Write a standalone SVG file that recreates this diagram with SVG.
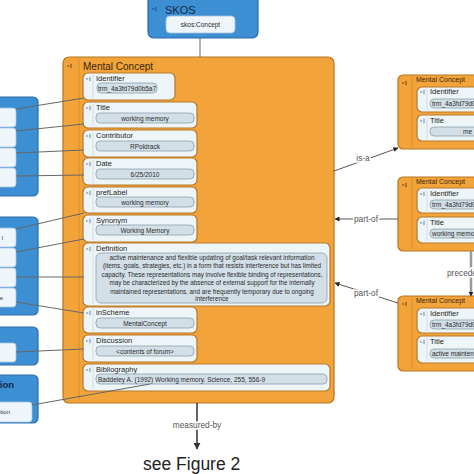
<svg xmlns="http://www.w3.org/2000/svg" width="474" height="474" viewBox="0 0 474 474">
<style>
text{font-family:"Liberation Sans",Arial,sans-serif}
.blue{fill:#3d8fd3;stroke:#2b6ca8;stroke-width:1.2}
.wbox{fill:#eef6fc;stroke:#a6c4dc;stroke-width:0.8}
.orange{fill:#f2a43a;stroke:#b8741f;stroke-width:1.2}
.sub{fill:#edf5f9;stroke:#b77a2c;stroke-width:1.2}
.div{stroke:#c9d6de;stroke-width:0.8}
.odiv{stroke:#d68a25;stroke-width:0.8}
.val{fill:#d3dfe7;stroke:#8d9ea9;stroke-width:0.8}
.lbl{font-size:7.5px;fill:#1e1e1e}
.vt{font-size:6.5px;fill:#2a2a2a;text-anchor:middle}
.dt{font-size:6.3px;fill:#2a2a2a;text-anchor:middle}
.mt{font-size:10px;fill:#3a2810}
.mts{font-size:7px;fill:#3a2810}
.ic{stroke:#5d7c98;stroke-width:0.9;fill:none}
.ico{stroke:#5a3a12;stroke-width:0.9;fill:none}
.conn{stroke:#666;stroke-width:1;fill:none}
.rel{stroke:#555;stroke-width:1;fill:none}
.rl{font-size:8.3px;fill:#555;paint-order:stroke;stroke:#fff;stroke-width:3px}
</style>
<defs>
<marker id="ah" viewBox="0 0 10 10" refX="9" refY="5" markerWidth="5" markerHeight="5" orient="auto" markerUnits="userSpaceOnUse">
<path d="M0,0L10,5L0,10z" fill="#222"/>
</marker>
<marker id="ahb" viewBox="0 0 10 10" refX="9" refY="5" markerWidth="7" markerHeight="7" orient="auto" markerUnits="userSpaceOnUse">
<path d="M0,0L10,5L0,10z" fill="#333"/>
</marker>
<g id="icon"><line x1="0" y1="0" x2="2.2" y2="0"/><line x1="4" y1="-2.2" x2="4" y2="2.2"/></g>
</defs>
<rect width="474" height="474" fill="#fff"/>

<!-- SKOS -->
<g id="skos">
<rect class="blue" x="148" y="-6" width="110" height="44" rx="6"/>
<use href="#icon" x="152" y="9" class="ico" style="stroke:#1c3c66"/>
<text x="165" y="14" style="font-size:11px;fill:#14284a">SKOS</text>
<rect class="wbox" x="166" y="16" width="69" height="17" rx="4"/>
<text x="200.5" y="27" class="vt" style="font-size:6.5px">skos:Concept</text>
</g>

<!-- left blue nodes -->
<g id="left1">
<rect class="blue" x="-10" y="97" width="48" height="99" rx="5"/>
<rect class="wbox" x="-10" y="108" width="26" height="19" rx="3"/>
<rect class="wbox" x="-10" y="128" width="26" height="19" rx="3"/>
<rect class="wbox" x="-10" y="148" width="26" height="19" rx="3"/>
<rect class="wbox" x="-10" y="168" width="26" height="19" rx="3"/>
</g>
<g id="left2">
<rect class="blue" x="-10" y="217" width="48" height="98" rx="5"/>
<rect class="wbox" x="-10" y="228" width="26" height="19" rx="3"/>
<rect class="wbox" x="-10" y="248" width="26" height="19" rx="3"/>
<rect class="wbox" x="-10" y="268" width="26" height="19" rx="3"/>
<rect class="wbox" x="-10" y="288" width="26" height="19" rx="3"/>
<text x="3" y="240" style="font-size:6px;fill:#333;text-anchor:end">l</text>
<text x="3" y="300" style="font-size:6px;fill:#333;text-anchor:end">e</text>
</g>
<g id="left3">
<rect class="blue" x="-10" y="327" width="48" height="38" rx="5"/>
<rect class="wbox" x="-10" y="343" width="26" height="19" rx="3"/>
</g>
<g id="left4">
<rect class="blue" x="-10" y="375" width="48" height="48" rx="5"/>
<text x="-6" y="388" style="font-size:9.5px;font-weight:bold;fill:#14284a">ition</text>
<rect class="wbox" x="-10" y="402" width="42" height="20" rx="3"/>
<text x="-1" y="414" style="font-size:6px;fill:#333">ition</text>
</g>

<!-- Main Mental Concept -->
<g id="main">
<rect class="orange" x="63" y="57" width="271" height="346" rx="6"/>
<line class="odiv" x1="79" y1="59" x2="79" y2="401"/>
<use href="#icon" x="67" y="66" class="ico"/>
<text x="83" y="70" class="mt">Mental Concept</text>
</g>
<g id="identifier">
<rect class="sub" x="83" y="73" width="92" height="27" rx="5"/>
<line class="div" x1="93" y1="75" x2="93" y2="98"/>
<use href="#icon" x="86" y="79" class="ic"/>
<text x="96" y="81" class="lbl">Identifier</text>
<rect class="val" x="97" y="83" width="60" height="10" rx="4"/>
<text x="127" y="90.5" class="vt">trm_4a3fd79d0b5a7</text>
</g>
<g id="title">
<rect class="sub" x="83" y="102" width="114" height="26" rx="5"/>
<line class="div" x1="93" y1="104" x2="93" y2="126"/>
<use href="#icon" x="86" y="108" class="ic"/>
<text x="96" y="110" class="lbl">Title</text>
<rect class="val" x="96" y="113" width="98" height="10" rx="4"/>
<text x="145" y="120.5" class="vt">working memory</text>
</g>
<g id="contributor">
<rect class="sub" x="83" y="130" width="114" height="27" rx="5"/>
<line class="div" x1="93" y1="132" x2="93" y2="155"/>
<use href="#icon" x="86" y="136" class="ic"/>
<text x="96" y="138" class="lbl">Contributor</text>
<rect class="val" x="96" y="141" width="98" height="10" rx="4"/>
<text x="145" y="148.5" class="vt">RPoldrack</text>
</g>
<g id="date">
<rect class="sub" x="83" y="158" width="114" height="27" rx="5"/>
<line class="div" x1="93" y1="160" x2="93" y2="183"/>
<use href="#icon" x="86" y="164" class="ic"/>
<text x="96" y="166" class="lbl">Date</text>
<rect class="val" x="96" y="169" width="98" height="10" rx="4"/>
<text x="145" y="176.5" class="vt">6/25/2010</text>
</g>
<g id="preflabel">
<rect class="sub" x="83" y="187" width="114" height="26" rx="5"/>
<line class="div" x1="93" y1="189" x2="93" y2="211"/>
<use href="#icon" x="86" y="193" class="ic"/>
<text x="96" y="195" class="lbl">prefLabel</text>
<rect class="val" x="96" y="197" width="98" height="10" rx="4"/>
<text x="145" y="204.5" class="vt">working memory</text>
</g>
<g id="synonym">
<rect class="sub" x="83" y="215" width="114" height="27" rx="5"/>
<line class="div" x1="93" y1="217" x2="93" y2="240"/>
<use href="#icon" x="86" y="221" class="ic"/>
<text x="96" y="223" class="lbl">Synonym</text>
<rect class="val" x="96" y="225" width="98" height="10" rx="4"/>
<text x="145" y="232.5" class="vt">Working Memory</text>
</g>
<g id="definition">
<rect class="sub" x="83" y="243" width="247" height="63" rx="5"/>
<line class="div" x1="93" y1="245" x2="93" y2="304"/>
<use href="#icon" x="86" y="249" class="ic"/>
<text x="96" y="251" class="lbl">Definition</text>
<rect class="val" x="96" y="253" width="231" height="50" rx="5"/>
<text x="212" y="259.5" class="dt">active maintenance and flexible updating of goal/task relevant information</text>
<text x="212" y="268" class="dt">(items, goals, strategies, etc.) in a form that resists interference but has limited</text>
<text x="212" y="276.5" class="dt">capacity. These representations may involve flexible binding of representations,</text>
<text x="212" y="285" class="dt">may be characterized by the absence of external support for the internally</text>
<text x="212" y="293.5" class="dt">maintained representations, and are frequently temporary due to ongoing</text>
<text x="212" y="300.5" class="dt">interference</text>
</g>
<g id="inscheme">
<rect class="sub" x="83" y="307" width="114" height="26" rx="5"/>
<line class="div" x1="93" y1="309" x2="93" y2="331"/>
<use href="#icon" x="86" y="313" class="ic"/>
<text x="96" y="315" class="lbl">inScheme</text>
<rect class="val" x="96" y="318" width="98" height="10" rx="4"/>
<text x="145" y="325.5" class="vt">MentalConcept</text>
</g>
<g id="discussion">
<rect class="sub" x="83" y="335" width="114" height="27" rx="5"/>
<line class="div" x1="93" y1="337" x2="93" y2="360"/>
<use href="#icon" x="86" y="341" class="ic"/>
<text x="96" y="343" class="lbl">Discussion</text>
<rect class="val" x="96" y="346" width="98" height="10" rx="4"/>
<text x="145" y="353.5" class="vt">&lt;contents of forum&gt;</text>
</g>
<g id="bibliography">
<rect class="sub" x="83" y="364" width="247" height="27" rx="5"/>
<line class="div" x1="93" y1="366" x2="93" y2="389"/>
<use href="#icon" x="86" y="370" class="ic"/>
<text x="96" y="372" class="lbl">Bibliography</text>
<rect class="val" x="96" y="374" width="231" height="10" rx="4"/>
<text x="98" y="381.5" class="vt" style="text-anchor:start">Baddeley A. (1992) Working memory. Science, 255, 556-9</text>
</g>

<!-- right nodes -->
<g id="r1">
<rect class="orange" x="398" y="75" width="90" height="74" rx="5"/>
<line class="odiv" x1="412" y1="77" x2="412" y2="147"/>
<use href="#icon" x="402" y="83" class="ico"/>
<text x="416" y="82" class="mts">Mental Concept</text>
<rect class="sub" x="417" y="87" width="70" height="25" rx="5"/>
<line class="div" x1="427" y1="89" x2="427" y2="110"/>
<use href="#icon" x="420" y="92" class="ic"/>
<text x="430" y="94" class="lbl">Identifier</text>
<rect class="val" x="430" y="99" width="60" height="9" rx="4"/>
<text x="432" y="106" class="vt" style="text-anchor:start">trm_4a3fd79d0b5a7</text>
<rect class="sub" x="417" y="115" width="70" height="26" rx="5"/>
<line class="div" x1="427" y1="117" x2="427" y2="139"/>
<use href="#icon" x="420" y="121" class="ic"/>
<text x="430" y="123" class="lbl">Title</text>
<rect class="val" x="430" y="127" width="60" height="9" rx="4"/>
<text x="463" y="134" class="vt" style="text-anchor:start">me</text>
</g>
<g id="r2">
<rect class="orange" x="398" y="177" width="90" height="74" rx="5"/>
<line class="odiv" x1="412" y1="179" x2="412" y2="249"/>
<use href="#icon" x="402" y="185" class="ico"/>
<text x="416" y="184" class="mts">Mental Concept</text>
<rect class="sub" x="417" y="188" width="70" height="25" rx="5"/>
<line class="div" x1="427" y1="190" x2="427" y2="211"/>
<use href="#icon" x="420" y="194" class="ic"/>
<text x="430" y="196" class="lbl">Identifier</text>
<rect class="val" x="430" y="200" width="60" height="9" rx="4"/>
<text x="432" y="207" class="vt" style="text-anchor:start">trm_4a3fd79d0b5a7</text>
<rect class="sub" x="417" y="217" width="70" height="26" rx="5"/>
<line class="div" x1="427" y1="219" x2="427" y2="241"/>
<use href="#icon" x="420" y="223" class="ic"/>
<text x="430" y="225" class="lbl">Title</text>
<rect class="val" x="430" y="229" width="60" height="9" rx="4"/>
<text x="432" y="236" class="vt" style="text-anchor:start">working memory</text>
</g>
<g id="r3">
<rect class="orange" x="398" y="296" width="90" height="75" rx="5"/>
<line class="odiv" x1="412" y1="298" x2="412" y2="369"/>
<use href="#icon" x="402" y="304" class="ico"/>
<text x="416" y="303" class="mts">Mental Concept</text>
<rect class="sub" x="417" y="308" width="70" height="25" rx="5"/>
<line class="div" x1="427" y1="310" x2="427" y2="331"/>
<use href="#icon" x="420" y="314" class="ic"/>
<text x="430" y="316" class="lbl">Identifier</text>
<rect class="val" x="430" y="320" width="60" height="9" rx="4"/>
<text x="432" y="327" class="vt" style="text-anchor:start">trm_4a3fd79d0b5a7</text>
<rect class="sub" x="417" y="336" width="70" height="27" rx="5"/>
<line class="div" x1="427" y1="338" x2="427" y2="361"/>
<use href="#icon" x="420" y="342" class="ic"/>
<text x="430" y="344" class="lbl">Title</text>
<rect class="val" x="430" y="349" width="60" height="9" rx="4"/>
<text x="432" y="356" class="vt" style="text-anchor:start">active maintenance</text>
</g>

<!-- connectors -->
<g id="connectors">
<line class="conn" x1="200" y1="38" x2="200" y2="57"/>
<line class="conn" x1="16" y1="109" x2="84" y2="98"/>
<line class="conn" x1="16" y1="131" x2="84" y2="124"/>
<line class="conn" x1="16" y1="153" x2="84" y2="150"/>
<line class="conn" x1="16" y1="176" x2="84" y2="175"/>
<line class="conn" x1="16" y1="229" x2="84" y2="213"/>
<line class="conn" x1="16" y1="252" x2="84" y2="239"/>
<line class="conn" x1="16" y1="277" x2="84" y2="277"/>
<line class="conn" x1="16" y1="302" x2="84" y2="313"/>
<line class="conn" x1="16" y1="352" x2="84" y2="349"/>
<line class="conn" x1="32" y1="405" x2="150" y2="384"/>
<line class="rel" x1="334" y1="171" x2="398" y2="148" marker-end="url(#ah)"/>
<text x="363" y="161" class="rl" text-anchor="middle">is-a</text>
<line class="rel" x1="398" y1="219" x2="335" y2="219" marker-end="url(#ah)"/>
<text x="366" y="222" class="rl" text-anchor="middle">part-of</text>
<line class="rel" x1="398" y1="303" x2="335" y2="283" marker-end="url(#ah)"/>
<text x="366" y="296" class="rl" text-anchor="middle">part-of</text>
<line x1="471" y1="251" x2="471" y2="296" stroke="#9a9a9a" stroke-width="2.5" marker-end="url(#ah)"/>
<text x="447" y="276" class="rl">precedes</text>
<line x1="197" y1="403" x2="197" y2="449" stroke="#333" stroke-width="1.5" marker-end="url(#ahb)"/>
<text x="197" y="428" class="rl" text-anchor="middle">measured-by</text>
</g>
<text x="143" y="470" style="font-size:17.5px;fill:#222">see Figure 2</text>
</svg>
